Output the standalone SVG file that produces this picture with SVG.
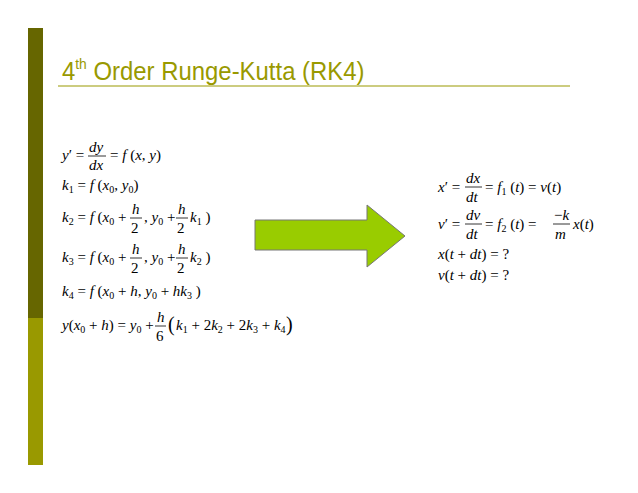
<svg xmlns="http://www.w3.org/2000/svg" width="638" height="493" viewBox="0 0 638 493">
<style>
text.m, .m text{font-family:'Liberation Serif','Times New Roman','DejaVu Serif',serif;font-size:15px;fill:#000}
.i{font-style:italic}
.s{font-size:10px}
.fr{stroke:#000;stroke-width:0.8}
</style>
<rect width="638" height="493" fill="#fff"/>
<g id="sidebar">
<rect x="28" y="28" width="15" height="290" fill="#666600"/>
<rect x="28" y="318" width="15" height="147" fill="#999900"/>
</g>
<g id="title">
<text x="62" y="80" font-family="Liberation Sans,Arial,sans-serif" font-size="26" fill="#999900" transform="translate(62 0) scale(0.92 1) translate(-62 0)">4<tspan font-size="15" dy="-11">th</tspan><tspan dy="11"> Order Runge-Kutta (RK4)</tspan></text>
<line x1="58" y1="86" x2="570" y2="86" stroke="#999900" stroke-width="1"/>
</g>
<g id="left-eqs" class="m">
<text x="62" y="160"><tspan class="i">y</tspan>′ =</text>
<text x="89" y="152" class="i">dy</text><line class="fr" x1="88" y1="156" x2="106" y2="156"/><text x="89" y="170" class="i">dx</text>
<text x="110" y="160">= <tspan class="i">f</tspan> (<tspan class="i">x</tspan>, <tspan class="i">y</tspan>)</text>

<text x="62" y="190"><tspan class="i">k</tspan><tspan class="s" dy="3">1</tspan><tspan dy="-3"> = </tspan><tspan class="i">f</tspan> (<tspan class="i">x</tspan><tspan class="s" dy="3">0</tspan><tspan dy="-3">, </tspan><tspan class="i">y</tspan><tspan class="s" dy="3">0</tspan><tspan dy="-3">)</tspan></text>

<text x="62" y="222"><tspan class="i">k</tspan><tspan class="s" dy="3">2</tspan><tspan dy="-3"> = </tspan><tspan class="i">f</tspan> (<tspan class="i">x</tspan><tspan class="s" dy="3">0</tspan><tspan dy="-3"> +</tspan></text>
<text x="132" y="214" class="i">h</text><line class="fr" x1="130" y1="218" x2="142" y2="218"/><text x="131" y="233">2</text>
<text x="144" y="222">, <tspan class="i">y</tspan><tspan class="s" dy="3">0</tspan><tspan dy="-3"> +</tspan></text>
<text x="178" y="214" class="i">h</text><line class="fr" x1="176" y1="218" x2="188" y2="218"/><text x="177" y="233">2</text>
<text x="190" y="222"><tspan class="i">k</tspan><tspan class="s" dy="3">1</tspan><tspan dy="-3"> )</tspan></text>

<text x="62" y="262"><tspan class="i">k</tspan><tspan class="s" dy="3">3</tspan><tspan dy="-3"> = </tspan><tspan class="i">f</tspan> (<tspan class="i">x</tspan><tspan class="s" dy="3">0</tspan><tspan dy="-3"> +</tspan></text>
<text x="132" y="254" class="i">h</text><line class="fr" x1="130" y1="258" x2="142" y2="258"/><text x="131" y="273">2</text>
<text x="144" y="262">, <tspan class="i">y</tspan><tspan class="s" dy="3">0</tspan><tspan dy="-3"> +</tspan></text>
<text x="178" y="254" class="i">h</text><line class="fr" x1="176" y1="258" x2="188" y2="258"/><text x="177" y="273">2</text>
<text x="190" y="262"><tspan class="i">k</tspan><tspan class="s" dy="3">2</tspan><tspan dy="-3"> )</tspan></text>

<text x="62" y="296"><tspan class="i">k</tspan><tspan class="s" dy="3">4</tspan><tspan dy="-3"> = </tspan><tspan class="i">f</tspan> (<tspan class="i">x</tspan><tspan class="s" dy="3">0</tspan><tspan dy="-3"> + </tspan><tspan class="i">h</tspan>, <tspan class="i">y</tspan><tspan class="s" dy="3">0</tspan><tspan dy="-3"> + </tspan><tspan class="i">hk</tspan><tspan class="s" dy="3">3</tspan><tspan dy="-3"> )</tspan></text>

<text x="62" y="330"><tspan class="i">y</tspan>(<tspan class="i">x</tspan><tspan class="s" dy="3">0</tspan><tspan dy="-3"> + </tspan><tspan class="i">h</tspan>) = <tspan class="i">y</tspan><tspan class="s" dy="3">0</tspan><tspan dy="-3"> +</tspan></text>
<text x="157" y="322" class="i">h</text><line class="fr" x1="155" y1="326" x2="166" y2="326"/><text x="156" y="341">6</text>
<text x="168" y="331" style="font-size:20px">(</text>
<text x="176" y="330"><tspan class="i">k</tspan><tspan class="s" dy="3">1</tspan><tspan dy="-3"> + 2</tspan><tspan class="i">k</tspan><tspan class="s" dy="3">2</tspan><tspan dy="-3"> + 2</tspan><tspan class="i">k</tspan><tspan class="s" dy="3">3</tspan><tspan dy="-3"> + </tspan><tspan class="i">k</tspan><tspan class="s" dy="3">4</tspan></text>
<text x="286" y="331" style="font-size:20px">)</text>
</g>
<g id="arrow">
<polygon points="255,220 367,220 367,205 405,236 367,267 367,250 255,250" fill="#99CC00" stroke="#777" stroke-width="1"/>
</g>
<g id="right-eqs" class="m">
<text x="438" y="192"><tspan class="i">x</tspan>′ =</text>
<text x="466" y="183" class="i">dx</text><line class="fr" x1="465" y1="187" x2="482" y2="187"/><text x="466" y="202" class="i">dt</text>
<text x="485" y="192">= <tspan class="i">f</tspan><tspan class="s" dy="3">1</tspan><tspan dy="-3"> (</tspan><tspan class="i">t</tspan>) = <tspan class="i">v</tspan>(<tspan class="i">t</tspan>)</text>

<text x="438" y="229"><tspan class="i">v</tspan>′ =</text>
<text x="466" y="220" class="i">dv</text><line class="fr" x1="465" y1="224" x2="482" y2="224"/><text x="466" y="239" class="i">dt</text>
<text x="485" y="229">= <tspan class="i">f</tspan><tspan class="s" dy="3">2</tspan><tspan dy="-3"> (</tspan><tspan class="i">t</tspan>) =</text>
<text x="554" y="220">−<tspan class="i">k</tspan></text><line class="fr" x1="553" y1="224" x2="570" y2="224"/><text x="555" y="239" class="i">m</text>
<text x="573" y="229"><tspan class="i">x</tspan>(<tspan class="i">t</tspan>)</text>

<text x="438" y="259"><tspan class="i">x</tspan>(<tspan class="i">t</tspan> + <tspan class="i">dt</tspan>) = ?</text>
<text x="438" y="280"><tspan class="i">v</tspan>(<tspan class="i">t</tspan> + <tspan class="i">dt</tspan>) = ?</text>
</g>
</svg>
